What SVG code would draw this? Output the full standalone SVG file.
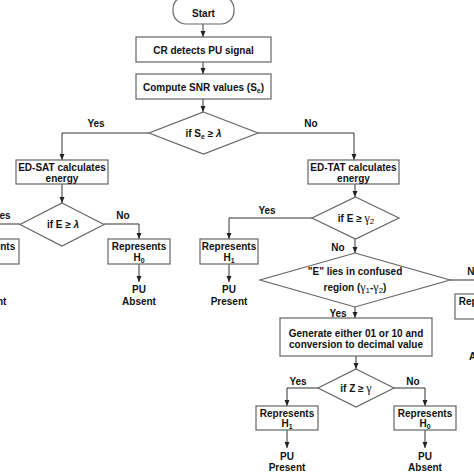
<svg xmlns="http://www.w3.org/2000/svg" width="474" height="474" viewBox="0 0 474 474">
<style>
  .box{fill:#fff;stroke:#666;stroke-width:1.2}
  .t{font-family:"Liberation Sans",Arial,sans-serif;font-weight:bold;font-size:10px;fill:#111;text-anchor:middle}
  .g{font-family:"Liberation Serif","Times New Roman",serif;font-weight:normal;font-size:12px}
  .c{fill:none;stroke:#333;stroke-width:1}
</style>
<defs>
  <marker id="ah" viewBox="0 0 6 6" refX="6" refY="3" markerWidth="6" markerHeight="6" markerUnits="userSpaceOnUse" orient="auto">
    <path d="M0,0.5 L6,3 L0,5.5 Z" fill="#222"/>
  </marker>
</defs>
<rect width="474" height="474" fill="#fff"/>

<g id="connectors">
  <path class="c" marker-end="url(#ah)" d="M203,24 V37"/>
  <path class="c" marker-end="url(#ah)" d="M203,62 V74"/>
  <path class="c" marker-end="url(#ah)" d="M203,99 V112"/>
  <path class="c" marker-end="url(#ah)" d="M149,133 H62 V160"/>
  <path class="c" marker-end="url(#ah)" d="M258,133 H354 V160"/>
  <path class="c" marker-end="url(#ah)" d="M62,184 V203"/>
  <path class="c" marker-end="url(#ah)" d="M20,224 H-12 V239"/>
  <path class="c" marker-end="url(#ah)" d="M104,224 H139 V239"/>
  <path class="c" marker-end="url(#ah)" d="M139,264 V282"/>
  <path class="c" marker-end="url(#ah)" d="M-12,264 V282"/>
  <path class="c" marker-end="url(#ah)" d="M355,184 V197"/>
  <path class="c" marker-end="url(#ah)" d="M312,218 H229 V239"/>
  <path class="c" marker-end="url(#ah)" d="M229,264 V282"/>
  <path class="c" marker-end="url(#ah)" d="M355,239 V253"/>
  <path class="c" marker-end="url(#ah)" d="M450,280 H486 V294"/>
  <path class="c" marker-end="url(#ah)" d="M486,319 V338"/>
  <path class="c" marker-end="url(#ah)" d="M355,307 V318"/>
  <path class="c" marker-end="url(#ah)" d="M356,356 V369"/>
  <path class="c" marker-end="url(#ah)" d="M318,388 H287 V406"/>
  <path class="c" marker-end="url(#ah)" d="M394,388 H425 V406"/>
  <path class="c" marker-end="url(#ah)" d="M287,430 V448"/>
  <path class="c" marker-end="url(#ah)" d="M425,430 V448"/>
  <text class="t" x="96" y="127">Yes</text>
  <text class="t" x="311" y="127">No</text>
  <text class="t" x="2" y="219">Yes</text>
  <text class="t" x="123" y="219">No</text>
  <text class="t" x="267" y="214">Yes</text>
  <text class="t" x="338" y="251">No</text>
  <text class="t" x="474" y="275">No</text>
  <text class="t" x="338" y="317">Yes</text>
  <text class="t" x="298" y="385">Yes</text>
  <text class="t" x="413" y="385">No</text>
</g>

<g id="start">
  <rect class="box" x="173" y="-4" width="61" height="28" rx="13"/>
  <text class="t" x="203.5" y="16.5">Start</text>
</g>
<g id="cr-detects">
  <rect class="box" x="136" y="37" width="135" height="25"/>
  <text class="t" x="203.5" y="53.5">CR detects PU signal</text>
</g>
<g id="compute-snr">
  <rect class="box" x="136" y="74" width="135" height="25"/>
  <text class="t" x="203.5" y="90.5">Compute SNR values (S<tspan font-size="7" dy="2">e</tspan><tspan dy="-2">)</tspan></text>
</g>
<g id="dec-snr">
  <polygon class="box" points="203.5,112 258,133 203.5,154 149,133"/>
  <text class="t" x="203.5" y="136.5">if S<tspan font-size="7" dy="2">e</tspan><tspan dy="-2"> ≥ </tspan><tspan font-style="italic">λ</tspan></text>
</g>
<g id="ed-sat">
  <rect class="box" x="16" y="160" width="92" height="24"/>
  <text class="t" x="62" y="170.5">ED-SAT calculates</text>
  <text class="t" x="62" y="182">energy</text>
</g>
<g id="dec-sat">
  <polygon class="box" points="62,203 104,224.5 62,246 20,224.5"/>
  <text class="t" x="63" y="228">if E ≥ <tspan font-style="italic">λ</tspan></text>
</g>
<g id="sat-h1">
  <rect class="box" x="-43" y="239" width="62" height="25"/>
  <text class="t" x="-12" y="250">Represents</text>
  <text class="t" x="-12" y="261">H<tspan font-size="7" dy="1.5">1</tspan></text>
  <text class="t" x="-12" y="293">PU</text>
  <text class="t" x="-12" y="305">Present</text>
</g>
<g id="sat-h0">
  <rect class="box" x="108" y="239" width="62" height="25"/>
  <text class="t" x="139" y="250">Represents</text>
  <text class="t" x="139" y="261">H<tspan font-size="7" dy="1.5">0</tspan></text>
  <text class="t" x="139" y="293">PU</text>
  <text class="t" x="139" y="305">Absent</text>
</g>
<g id="ed-tat">
  <rect class="box" x="308" y="160" width="91" height="24"/>
  <text class="t" x="353.5" y="170.5">ED-TAT calculates</text>
  <text class="t" x="353.5" y="182">energy</text>
</g>
<g id="dec-tat">
  <polygon class="box" points="355.5,197 399,218 355.5,239 312,218"/>
  <text class="t" x="356" y="222">if E ≥ <tspan class="g">γ</tspan><tspan font-weight="normal" font-size="8" dy="2">2</tspan></text>
</g>
<g id="tat-h1">
  <rect class="box" x="200" y="239" width="58" height="25"/>
  <text class="t" x="229" y="250">Represents</text>
  <text class="t" x="229" y="261">H<tspan font-size="7" dy="1.5">1</tspan></text>
  <text class="t" x="229" y="293">PU</text>
  <text class="t" x="229" y="305">Present</text>
</g>
<g id="dec-confused">
  <polygon class="box" points="355,253 450,280 355,307 260,280"/>
  <text class="t" x="355" y="274.5">"E" lies in confused</text>
  <text class="t" x="355" y="291">region (<tspan class="g">γ</tspan><tspan font-weight="normal" font-size="8" dy="2">1</tspan><tspan dy="-2">-</tspan><tspan class="g">γ</tspan><tspan font-weight="normal" font-size="8" dy="2">2</tspan><tspan dy="-2">)</tspan></text>
</g>
<g id="conf-h0">
  <rect class="box" x="455" y="294" width="62" height="25"/>
  <text class="t" x="486" y="305">Represents</text>
  <text class="t" x="486" y="316">H<tspan font-size="7" dy="1.5">0</tspan></text>
  <text class="t" x="486" y="348">PU</text>
  <text class="t" x="486" y="360">Absent</text>
</g>
<g id="generate">
  <rect class="box" x="280" y="318" width="152" height="38"/>
  <text class="t" x="356" y="336.5">Generate either 01 or 10 and</text>
  <text class="t" x="356" y="348">conversion to decimal value</text>
</g>
<g id="dec-z">
  <polygon class="box" points="356,369 394,388 356,407 318,388"/>
  <text class="t" x="356" y="392">if Z ≥ <tspan class="g">γ</tspan></text>
</g>
<g id="z-h1">
  <rect class="box" x="256" y="406" width="62" height="24"/>
  <text class="t" x="287" y="416.5">Represents</text>
  <text class="t" x="287" y="427">H<tspan font-size="7" dy="1.5">1</tspan></text>
  <text class="t" x="287" y="460">PU</text>
  <text class="t" x="287" y="471">Present</text>
</g>
<g id="z-h0">
  <rect class="box" x="394" y="406" width="62" height="24"/>
  <text class="t" x="425" y="416.5">Represents</text>
  <text class="t" x="425" y="427">H<tspan font-size="7" dy="1.5">0</tspan></text>
  <text class="t" x="425" y="460">PU</text>
  <text class="t" x="425" y="471">Absent</text>
</g>
</svg>
